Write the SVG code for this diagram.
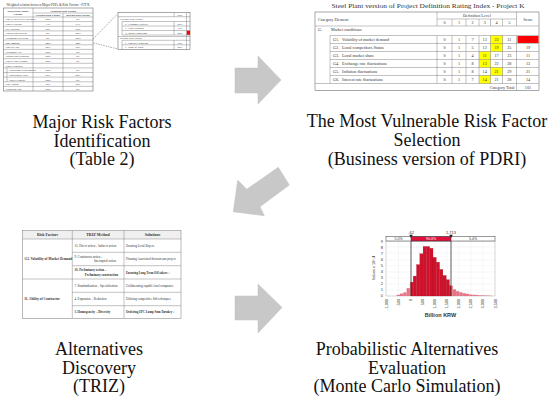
<svg xmlns="http://www.w3.org/2000/svg" width="550" height="405" viewBox="0 0 550 405">
<style>
.lbl{font-family:"Liberation Serif","Times New Roman",serif;font-size:18px;fill:#111;text-anchor:middle}
.s{font-family:"Liberation Serif","Times New Roman",serif;fill:#333}
.ss{font-family:"Liberation Sans",Arial,sans-serif;fill:#333}
.ln{stroke:#666;stroke-width:0.4;fill:none}
.bx{stroke:#555;stroke-width:0.5;fill:#fff}
.arrow{fill:#c8c8c8;stroke:#c0c0c0;stroke-width:0.5}
.c{text-anchor:middle}
.e{text-anchor:end}
.b{font-weight:bold}
.hi{fill:#d0112b}
.lo{fill:#e57586}
</style>
<rect width="550" height="405" fill="#fff"/>

<!-- Node 1: Major Risk Factors Identification -->
<g id="node-identification">
  <text class="s c" x="48" y="5.5" font-size="3" textLength="83" lengthAdjust="spacingAndGlyphs">Weighted relation between Major PDFs &amp; Risk Factors - PJT K</text>
  <rect class="bx" x="3.5" y="8" width="89.5" height="83"/>
  <path class="ln" d="M33 8V91M63 13V91M33 13H93M3.5 17H93M3.5 21.6H93M3.5 26.3H93M3.5 30.9H93M3.5 35.5H93M3.5 40.1H93M3.5 44.8H93M3.5 49.4H93M3.5 54H93M3.5 58.6H93M3.5 63.3H93M3.5 67.9H93M3.5 72.5H93M3.5 77.1H93M3.5 81.8H93M3.5 86.4H93M7 67.9V81.8"/>
  <g class="s" font-size="2.6">
    <text class="c b" x="18" y="11.6">PDRI/PDRI Major</text>
    <text class="c b" x="18" y="15.4">Factors</text>
    <text class="c b" x="63" y="11.6">Associated Risk Factors</text>
    <text class="c b" x="48" y="16">External Risk Factors</text>
    <text class="c b" x="78" y="16">Internal Risk Factors</text>
    <text x="5.5" y="20.4">Project Objectives Statement</text>
    <text x="5.5" y="25">Project Strategy</text>
    <text x="5.5" y="29.65">Site Location</text>
    <text x="5.5" y="34.3">Contracting Strategy</text>
    <text x="5.5" y="38.9">Technology Selection</text>
    <text class="b" x="5.5" y="43.5">Site Analysis</text>
    <text x="5.5" y="48.15">Process Flow</text>
    <text x="5.5" y="52.8">Equipment List</text>
    <text x="5.5" y="57.4">Engineering Standards</text>
    <text x="5.5" y="62">Project Cost Estimate</text>
    <text x="5.5" y="66.65">Project Schedule</text>
    <text x="9" y="71.3">Scheduling Requirements</text>
    <text x="9" y="75.9">Procurement Plan</text>
    <text x="9" y="80.5">Project Control</text>
    <text x="5.5" y="85.15">Cost Control</text>
    <text x="5.5" y="89.8">Transition Plan</text>
    <text class="c" x="48" y="20.4">100%</text><text class="c" x="78" y="20.4">0%</text>
    <text class="c" x="48" y="25">33%</text><text class="c" x="78" y="25">67%</text>
    <text class="c" x="48" y="29.65">50%</text><text class="c" x="78" y="29.65">50%</text>
    <text class="c" x="48" y="34.3">0%</text><text class="c" x="78" y="34.3">100%</text>
    <text class="c" x="48" y="38.9">0%</text><text class="c" x="78" y="38.9">100%</text>
    <text class="c b" x="48" y="43.5">70%</text><text class="c b" x="78" y="43.5">30%</text>
    <text class="c" x="48" y="48.15">40%</text><text class="c" x="78" y="48.15">60%</text>
    <text class="c" x="48" y="52.8">100%</text><text class="c" x="78" y="52.8">0%</text>
    <text class="c" x="48" y="57.4">100%</text><text class="c" x="78" y="57.4">0%</text>
    <text class="c" x="48" y="62">100%</text><text class="c" x="78" y="62">0%</text>
    <text class="c" x="48" y="71.3">100%</text><text class="c" x="78" y="71.3">0%</text>
    <text class="c" x="48" y="75.9">60%</text><text class="c" x="78" y="75.9">40%</text>
    <text class="c" x="48" y="80.5">100%</text><text class="c" x="78" y="80.5">0%</text>
    <text class="c" x="48" y="85.15">50%</text><text class="c" x="78" y="85.15">50%</text>
    <text class="c" x="48" y="89.8">100%</text><text class="c" x="78" y="89.8">0%</text>
  </g>
  <path d="M93 39L117.5 14M93.5 43L118 49" stroke="#555" stroke-width="0.5" stroke-dasharray="1.5 1" fill="none"/>
  <rect class="bx" x="118" y="12.7" width="72" height="36.8"/>
  <path class="ln" d="M118 16.7H190M122 21.5H190M122 26H190M122 30.5H190M122 35H190M122 40.3H190M122 44.8H190M122 21.5V35M122 40.3V49.5M174 12.7V16.7M174 21.5V35M174 40.3V49.5M186.5 12.7V49.5M118 36.5H190"/>
  <rect x="186.8" y="30.8" width="3.2" height="4" fill="#ff0000"/>
  <g class="s" font-size="2.6">
    <text class="c" x="180" y="15.6">Rate</text>
    <text x="120" y="20">External Risk Factors</text>
    <text x="125" y="24.8">G. Economic Stability</text>
    <text x="125" y="29.3">L. Legal Standard</text>
    <text x="125" y="33.8">Q. Market conditions</text>
    <text x="120" y="39.2">Internal Risk Factors</text>
    <text x="125" y="43.6">C. Contract Condition</text>
    <text x="125" y="48.1">E. Scope of Work</text>
    <text class="c" x="180" y="24.8">25%</text>
    <text class="c" x="180" y="29.3">35%</text>
    <text class="c" x="180" y="33.8">40%</text>
    <text class="c" x="180" y="43.6">60%</text>
    <text class="c" x="180" y="48.1">40%</text>
  </g>
  <text class="lbl" x="102" y="128">Major Risk Factors</text>
  <text class="lbl" x="102" y="146.5">Identification</text>
  <text class="lbl" x="102" y="165">(Table 2)</text>
</g>

<!-- Node 2: PDRI -->
<g id="node-pdri">
  <text class="s c" x="428" y="8" font-size="7" fill="#222" textLength="193" lengthAdjust="spacingAndGlyphs">Steel Plant version of Project Definition Rating Index - Project K</text>
  <rect class="bx" x="315" y="12" width="224" height="78.5"/>
  <g fill="#ffff00">
    <rect x="490.5" y="35.5" width="12" height="8"/>
    <rect x="490.5" y="43.5" width="12" height="8"/>
    <rect x="479" y="51.5" width="11.5" height="8"/>
    <rect x="479" y="59.5" width="11.5" height="8"/>
    <rect x="490.5" y="67.5" width="12" height="8"/>
    <rect x="479" y="75.5" width="11.5" height="8"/>
  </g>
  <rect x="517.5" y="36" width="21" height="7" fill="#ff0000"/>
  <path class="ln" d="M437 12V26M516.5 12V26M437 19H516.5M315 26H539M452 19V26M466 19V26M479 19V26M490.5 19V26M502.5 19V26M330 35.5H539M330 43.5H539M330 51.5H539M330 59.5H539M330 67.5H539M330 75.5H539M315 83.5H539M330 35.5V83.5M437 35.5V83.5M452 35.5V83.5M466 35.5V83.5M479 35.5V83.5M490.5 35.5V83.5M502.5 35.5V83.5M516.5 35.5V90.5"/>
  <g class="s" font-size="4.2">
    <text x="318" y="21">Category Element</text>
    <text class="c" x="477" y="17.4">Definition Level</text>
    <text class="c" x="444.5" y="24.4">0</text><text class="c" x="459" y="24.4">1</text><text class="c" x="472.5" y="24.4">2</text><text class="c" x="484.7" y="24.4">3</text><text class="c" x="496.5" y="24.4">4</text><text class="c" x="509.3" y="24.4">5</text>
    <text class="c" x="528" y="21">Score</text>
    <text x="318" y="31.2">G.</text><text x="331" y="31.2">Market conditions</text>
    <text x="333" y="41">G1.</text><text x="342" y="41">Volatility of market demand</text>
    <text x="333" y="49">G2.</text><text x="342" y="49">Local competitors Status</text>
    <text x="333" y="57">G3.</text><text x="342" y="57">Local market share</text>
    <text x="333" y="65">G4.</text><text x="342" y="65">Exchange rate fluctuations</text>
    <text x="333" y="73">G5.</text><text x="342" y="73">Inflation fluctuations</text>
    <text x="333" y="81">G6.</text><text x="342" y="81">Interest rate fluctuations</text>
    <g class="c">
      <text x="444.5" y="41">0</text><text x="459" y="41">1</text><text x="472.5" y="41">7</text><text x="484.7" y="41">13</text><text x="496.5" y="41">23</text><text x="509.3" y="41">31</text><text x="528" y="41" fill="#b00">23</text>
      <text x="444.5" y="49">0</text><text x="459" y="49">1</text><text x="472.5" y="49">5</text><text x="484.7" y="49">12</text><text x="496.5" y="49">19</text><text x="509.3" y="49">25</text><text x="528" y="49">19</text>
      <text x="444.5" y="57">0</text><text x="459" y="57">1</text><text x="472.5" y="57">4</text><text x="484.7" y="57">11</text><text x="496.5" y="57">17</text><text x="509.3" y="57">23</text><text x="528" y="57">11</text>
      <text x="444.5" y="65">0</text><text x="459" y="65">1</text><text x="472.5" y="65">8</text><text x="484.7" y="65">13</text><text x="496.5" y="65">22</text><text x="509.3" y="65">28</text><text x="528" y="65">13</text>
      <text x="444.5" y="73">0</text><text x="459" y="73">1</text><text x="472.5" y="73">8</text><text x="484.7" y="73">14</text><text x="496.5" y="73">21</text><text x="509.3" y="73">29</text><text x="528" y="73">21</text>
      <text x="444.5" y="81">0</text><text x="459" y="81">1</text><text x="472.5" y="81">7</text><text x="484.7" y="81">14</text><text x="496.5" y="81">21</text><text x="509.3" y="81">28</text><text x="528" y="81">14</text>
      <text x="528" y="88.6">101</text>
    </g>
    <text class="e" x="514.5" y="88.6">Category Total</text>
  </g>
  <text class="lbl" x="427" y="127">The Most Vulnerable Risk Factor</text>
  <text class="lbl" x="427" y="146">Selection</text>
  <text class="lbl" x="427" y="164.5">(Business version of PDRI)</text>
</g>

<!-- Node 3: TRIZ -->
<g id="node-triz">
  <rect x="22.7" y="230.7" width="158.3" height="8.3" fill="#f0f0f0"/>
  <rect x="22.7" y="230.7" width="158.3" height="87.6" fill="none" stroke="#777" stroke-width="0.5"/>
  <path class="ln" d="M22.7 239H181M72.3 230.7V318.3M124 230.7V318.3M72.3 252.3H181M72.3 265.7H181M22.7 279H181M72.3 292.3H181M72.3 305.7H181"/>
  <g class="s" font-size="3.9">
    <text class="c b" x="47.5" y="236.3">Risk Factors</text>
    <text class="c b" x="98" y="236.3">TRIZ Method</text>
    <text class="c b" x="152.5" y="236.3">Solutions</text>
    <text class="b" x="24.5" y="260.3" font-size="3.4">G1. Volatility of Market Demand</text>
    <text class="b" x="24.5" y="300" font-size="3.4">I1. Ability of Contractor</text>
  </g>
  <g class="s" font-size="3.1">
    <text x="74.5" y="246.8">13. Direct action – Indirect action</text>
    <text x="74.5" y="257.5">9. Continuous action –</text>
    <text class="e" x="116" y="262.3">Interrupted action</text>
    <text class="b" x="74.5" y="271">10. Preliminary action –</text>
    <text class="e b" x="118" y="275.8">Preliminary construction</text>
    <text x="74.5" y="287">7. Standardization – Specialization</text>
    <text x="74.5" y="300">4. Expansion – Reduction</text>
    <text class="b" x="74.5" y="313.2">3. Homogeneity – Diversity</text>
  </g>
  <g class="s" font-size="3.05">
    <text x="126" y="246.8">Ensuring Local Buyers</text>
    <text x="126" y="260">Planning Associated downstream project</text>
    <text class="b" x="126" y="273.5">Ensuring Long Term Off-takers √</text>
    <text x="126" y="287">Collaborating capable local companies</text>
    <text x="126" y="300">Utilizing competitive Std techniques</text>
    <text class="b" x="126" y="313.2">Ordering EPC Lump Sum Turnkey √</text>
  </g>
  <text class="lbl" x="99" y="355">Alternatives</text>
  <text class="lbl" x="99" y="373.5">Discovery</text>
  <text class="lbl" x="99" y="392">(TRIZ)</text>
</g>

<!-- Node 4: Monte Carlo -->
<g id="node-montecarlo">
  <rect x="386" y="241" width="109" height="55" fill="#fff" stroke="#999" stroke-width="0.4"/>
  <path d="M398.4 241V296M422.6 241V296M434.7 241V296M446.8 241V296M458.9 241V296M471 241V296M483.1 241V296M386 247H495M386 253H495M386 259.9H495M386 265.9H495M386 272H495M386 278H495M386 284H495M386 290H495" stroke="#e4e4e4" stroke-width="0.3"/>
  <g class="lo">
    <rect x="396.7" y="294.79" width="3.3" height="1.21"/>
    <rect x="400" y="293.58" width="3.3" height="2.42"/>
    <rect x="403.3" y="292.38" width="3.3" height="3.62"/>
    <rect x="406.6" y="288.15" width="3.3" height="7.85"/>
    <rect x="409.9" y="282.11" width="1.1" height="13.89"/>
    <rect x="451" y="285.73" width="1.8" height="10.27"/>
    <rect x="452.8" y="289.36" width="3.3" height="6.64"/>
    <rect x="456.1" y="291.17" width="3.3" height="4.83"/>
    <rect x="459.4" y="292.38" width="3.3" height="3.62"/>
    <rect x="462.7" y="293.28" width="3.3" height="2.72"/>
    <rect x="466" y="293.89" width="3.3" height="2.11"/>
    <rect x="469.3" y="294.49" width="3.3" height="1.51"/>
    <rect x="472.6" y="294.79" width="3.3" height="1.21"/>
    <rect x="475.9" y="295.09" width="3.3" height="0.91"/>
    <rect x="479.2" y="295.28" width="3.3" height="0.72"/>
    <rect x="482.5" y="295.4" width="3.3" height="0.6"/>
    <rect x="485.8" y="295.52" width="3.3" height="0.48"/>
    <rect x="489.1" y="295.7" width="3.3" height="0.3"/>
  </g>
  <g class="hi" stroke="#a00a20" stroke-width="0.2">
    <rect x="411" y="282.11" width="2.2" height="13.89"/>
    <rect x="413.2" y="276.07" width="3.3" height="19.93"/>
    <rect x="416.5" y="264.59" width="3.3" height="31.41"/>
    <rect x="419.8" y="253.72" width="3.3" height="42.28"/>
    <rect x="423.1" y="246.47" width="3.3" height="49.53"/>
    <rect x="426.4" y="246.47" width="3.3" height="49.53"/>
    <rect x="429.7" y="248.28" width="3.3" height="47.72"/>
    <rect x="433" y="257.34" width="3.3" height="38.66"/>
    <rect x="436.3" y="262.18" width="3.3" height="33.82"/>
    <rect x="439.6" y="269.42" width="3.3" height="26.58"/>
    <rect x="442.9" y="275.46" width="3.3" height="20.54"/>
    <rect x="446.2" y="279.69" width="3.3" height="16.31"/>
    <rect x="449.5" y="285.73" width="1.5" height="10.27"/>
  </g>
  <path d="M411 236.7V296M451 236.7V296" stroke="#333" stroke-width="0.8"/>
  <rect x="386" y="236.7" width="109" height="4.3" fill="#fff" stroke="#333" stroke-width="0.5"/>
  <rect x="411" y="236.7" width="40" height="4.3" fill="#e0103a" stroke="#333" stroke-width="0.5"/>
  <path d="M409.2 234.8H412.8L411 238ZM449.2 234.8H452.8L451 238Z" fill="#222"/>
  <g class="ss" font-size="3.6">
    <text class="c" x="398.5" y="240.3">5.0%</text>
    <text class="c" x="431" y="240.3" fill="#fff">90.0%</text>
    <text class="c" x="473" y="240.3">5.0%</text>
    <text class="c" x="411" y="233.5" font-size="4">-62</text>
    <text class="c" x="451" y="233.5" font-size="4">1,713</text>
  </g>
  <g class="ss e" font-size="4">
    <text x="383" y="297.4">0</text><text x="383" y="291.4">1</text><text x="383" y="285.3">2</text><text x="383" y="279.3">3</text><text x="383" y="273.2">4</text><text x="383" y="267.2">5</text><text x="383" y="261.2">6</text><text x="383" y="255.1">7</text><text x="383" y="249.1">8</text><text x="383" y="243">9</text>
  </g>
  <g class="ss e" font-size="3.8">
    <text transform="translate(387.6 299) rotate(-90)">-1,000</text>
    <text transform="translate(399.7 299) rotate(-90)">-500</text>
    <text transform="translate(411.8 299) rotate(-90)">0</text>
    <text transform="translate(423.9 299) rotate(-90)">500</text>
    <text transform="translate(436 299) rotate(-90)">1,000</text>
    <text transform="translate(448.1 299) rotate(-90)">1,500</text>
    <text transform="translate(460.2 299) rotate(-90)">2,000</text>
    <text transform="translate(472.3 299) rotate(-90)">2,500</text>
    <text transform="translate(484.4 299) rotate(-90)">3,000</text>
    <text transform="translate(496.5 299) rotate(-90)">3,500</text>
  </g>
  <text class="ss c" transform="translate(375 268) rotate(-90)" font-size="3.8" fill="#4a3f86">Values x 10^-4</text>
  <text class="ss c b" x="440.5" y="317" font-size="5.5" fill="#6b3a86">Billion KRW</text>
  <text class="lbl" x="407" y="355">Probabilistic Alternatives</text>
  <text class="lbl" x="407" y="373.5">Evaluation</text>
  <text class="lbl" x="407" y="392">(Monte Carlo Simulation)</text>
</g>

<!-- Connectors -->
<g id="connectors">
  <polygon class="arrow" points="235,68 258,68 258,56 281,80 258,104 258,93 235,93"/>
  <polygon class="arrow" points="278.3,167.3 289.3,185 260,206.7 264.3,215.7 233.3,211.7 237.7,180 246.7,189.3"/>
  <polygon class="arrow" points="235,296 258,296 258,284 282,307.5 258,333 258,320 235,320"/>
</g>
</svg>
